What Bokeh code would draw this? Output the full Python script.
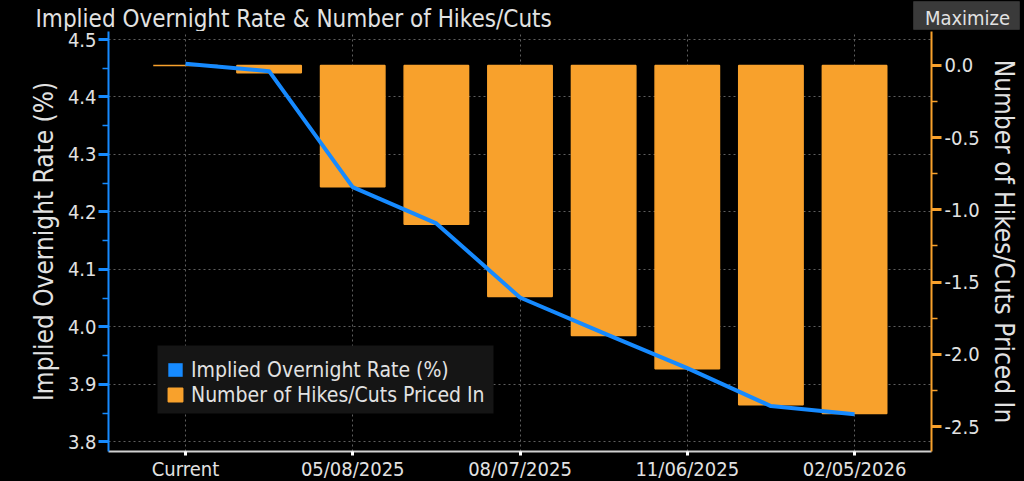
from bokeh.plotting import figure
from bokeh.layouts import column
from bokeh.models import (Range1d, LinearAxis, FixedTicker, Legend, Label,
                          LegendItem, PrintfTickFormatter, BoxAnnotation)
from bokeh.embed import file_html
from bokeh.resources import INLINE

# ---- data ----
meetings = ["Current", "03/20/2025", "05/08/2025", "06/19/2025", "08/07/2025",
            "09/18/2025", "11/06/2025", "12/18/2025", "02/05/2026"]
rates = [4.458, 4.445, 4.243, 4.180, 4.051, 3.989, 3.928, 3.862, 3.848]
moves = [0.0, -0.05, -0.84, -1.10, -1.60, -1.87, -2.10, -2.35, -2.41]
shown_labels = ["Current", "05/08/2025", "08/07/2025", "11/06/2025", "02/05/2026"]
left_ticks = [3.8, 3.9, 4.0, 4.1, 4.2, 4.3, 4.4, 4.5]
right_ticks = [0.0, -0.5, -1.0, -1.5, -2.0, -2.5]

title_text = "Implied Overnight Rate & Number of Hikes/Cuts"
left_label = "Implied Overnight Rate (%)"
right_label = "Number of Hikes/Cuts Priced In"
legend_labels = ["Implied Overnight Rate (%)", "Number of Hikes/Cuts Priced In"]
button_text = "Maximize"

FONT = "'DejaVu Sans Condensed', 'Liberation Sans', sans-serif"
BLUE = "#168AFF"
ORANGE = "#F8A12C"
TXT = "#E2E2E2"
GRID = "#5E5E5E"

W = 1024
HEAD_H = 31

# ---------------- header strip (title + button) ----------------
head = figure(frame_width=W, frame_height=HEAD_H,
              x_range=Range1d(0, W), y_range=Range1d(0, HEAD_H),
              min_border=0, min_border_left=0, min_border_right=0,
              min_border_top=0, min_border_bottom=0,
              x_axis_type=None, y_axis_type=None,
              output_backend="svg", toolbar_location=None,
              background_fill_color="black", border_fill_color="black",
              outline_line_color=None)
head.grid.visible = False
head.add_layout(Label(x=35, y=HEAD_H - 18, text=title_text, text_align="left",
                      text_baseline="alphabetic", text_color=TXT, text_font=FONT,
                      text_font_size="24px"))
head.add_layout(BoxAnnotation(left=913, right=1019, bottom=HEAD_H - 29, top=HEAD_H - 1,
                              fill_color="#3A3A3A", fill_alpha=1.0,
                              line_color="#585858", line_width=1))
head.add_layout(Label(x=967, y=HEAD_H - 17, text=button_text, text_align="center",
                      text_baseline="alphabetic", text_color=TXT, text_font=FONT,
                      text_font_size="20px"))

# ---------------- main chart ----------------
xs = list(range(len(meetings)))
tick_pos = [meetings.index(m) for m in shown_labels]

FW, FH = 823, 420
X0, X1 = -0.92, 8.92
Y0, Y1 = 3.783, 4.514
p = figure(frame_width=FW, frame_height=FH,
           min_border_left=108, min_border_right=93,
           min_border_top=0, min_border_bottom=30,
           x_range=Range1d(X0, X1), y_range=Range1d(Y0, Y1),
           output_backend="svg", toolbar_location=None,
           background_fill_color="black", border_fill_color="black",
           outline_line_color=None)
p.extra_y_ranges = {"right": Range1d(-2.673, 0.235)}

# do not align the two frames with each other
for fig in (head, p):
    try:
        fig.frame_align = False
    except Exception:
        pass

# bars (right axis) hanging from zero
bars = p.vbar(x=xs, top=[0.0] * len(xs), bottom=moves, width=0.77,
              y_range_name="right", fill_color=ORANGE, line_color=ORANGE,
              line_width=1.5)
# line (left axis)
p.line(x=xs, y=rates, line_color=BLUE, line_width=4, line_join="round")
# legend swatch for the line (outside the visible range)
swatch = p.vbar(x=[-50], top=[4.0], bottom=[3.9], width=0.5,
                fill_color=BLUE, line_color=None)

# ---- axes ----
ax = p.yaxis[0]
ax.ticker = FixedTicker(ticks=left_ticks,
                        minor_ticks=[round(t + 0.05, 2) for t in left_ticks[:-1]])
ax.formatter = PrintfTickFormatter(format="%.1f")
ax.axis_line_color = BLUE
ax.axis_line_width = 2
ax.major_tick_line_color = BLUE
ax.major_tick_line_width = 3
ax.major_tick_out = 10
ax.major_tick_in = 0
ax.minor_tick_line_color = BLUE
ax.minor_tick_line_width = 1.5
ax.minor_tick_out = 6
ax.minor_tick_in = 0
ax.major_label_text_color = TXT
ax.major_label_text_font = FONT
ax.major_label_text_font_size = "20px"
ax.major_label_standoff = 2
ax.axis_label = left_label
ax.axis_label_text_color = TXT
ax.axis_label_text_font = FONT
ax.axis_label_text_font_size = "26px"
ax.axis_label_text_font_style = "normal"
ax.axis_label_standoff = 6

rax = LinearAxis(y_range_name="right")
rax.ticker = FixedTicker(ticks=right_ticks,
                         minor_ticks=[t - 0.25 for t in right_ticks] + [0.25])
rax.formatter = PrintfTickFormatter(format="%.1f")
rax.axis_line_color = ORANGE
rax.axis_line_width = 2
rax.major_tick_line_color = ORANGE
rax.major_tick_line_width = 3
rax.major_tick_out = 10
rax.major_tick_in = 0
rax.minor_tick_line_color = ORANGE
rax.minor_tick_line_width = 1.5
rax.minor_tick_out = 6
rax.minor_tick_in = 0
rax.major_label_text_color = TXT
rax.major_label_text_font = FONT
rax.major_label_text_font_size = "20px"
rax.major_label_standoff = 3
rax.axis_label = right_label
rax.axis_label_text_color = TXT
rax.axis_label_text_font = FONT
rax.axis_label_text_font_size = "26px"
rax.axis_label_text_font_style = "normal"
rax.axis_label_standoff = 6
p.add_layout(rax, "right")

xax = p.xaxis[0]
xax.ticker = FixedTicker(ticks=tick_pos, minor_ticks=[])
xax.major_label_overrides = {pos: lab for pos, lab in zip(tick_pos, shown_labels)}
xax.axis_line_color = "#D0D0D0"
xax.axis_line_width = 2
xax.major_tick_line_color = "white"
xax.major_tick_line_width = 3
xax.major_tick_out = 4
xax.major_tick_in = 0
xax.minor_tick_line_color = None
xax.major_label_text_color = TXT
xax.major_label_text_font = FONT
xax.major_label_text_font_size = "20px"
xax.major_label_standoff = 1

# ---- grid ----
for g in (p.xgrid[0], p.ygrid[0]):
    g.grid_line_color = GRID
    g.grid_line_dash = "2 3"
    g.grid_line_width = 1

# ---- legend: background panel (frame pixels -> data) + items ----
def px_x(px):
    return X0 + px * (X1 - X0) / FW

def px_y(px):
    return Y0 + px * (Y1 - Y0) / FH

p.add_layout(BoxAnnotation(left=px_x(49), right=px_x(385),
                           bottom=px_y(38), top=px_y(106),
                           fill_color="#151515", fill_alpha=1.0, line_color=None))
legend = Legend(items=[LegendItem(label=legend_labels[0], renderers=[swatch]),
                       LegendItem(label=legend_labels[1], renderers=[bars])],
                location=(58, 44), background_fill_alpha=0.0,
                border_line_color=None,
                label_text_color=TXT, label_text_font=FONT,
                label_text_font_size="21px", glyph_width=18, glyph_height=17,
                label_standoff=7, spacing=0, padding=0, label_height=25,
                margin=0)
p.add_layout(legend)

layout = column(head, p, spacing=0, styles={"background-color": "black"})
open("out.html", "w").write(file_html(layout, INLINE))
